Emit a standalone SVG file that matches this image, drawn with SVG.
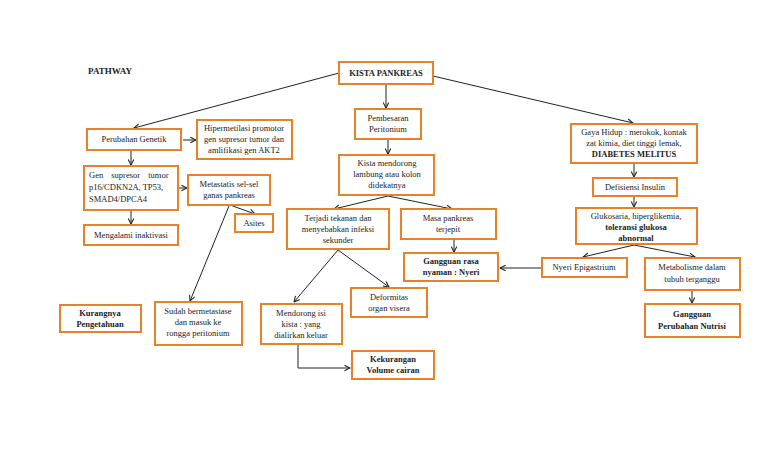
<svg xmlns="http://www.w3.org/2000/svg" width="768" height="466" viewBox="0 0 768 466">
<style>
rect{fill:#fff;stroke:#E8822A;stroke-width:2}
text{font-family:"Liberation Serif",serif;font-size:8.5px;fill:#222;text-anchor:middle}
.b{font-weight:bold}
#conn line,#conn polyline{stroke:#222;stroke-width:1;fill:none;marker-end:url(#a)}
</style>
<defs><marker id="a" viewBox="0 0 10 10" refX="9" refY="5" markerWidth="7" markerHeight="7" orient="auto"><path d="M1,1 L9,5 L1,9" fill="none" stroke="#222" stroke-width="1.5"/></marker></defs>
<rect width="768" height="466" style="fill:#fff;stroke:none"/>
<text x="110" y="74" class="b" style="font-size:9px">PATHWAY</text>
<g id="conn">
<line x1="339" y1="73" x2="134" y2="128"/>
<line x1="386" y1="84" x2="386" y2="108"/>
<line x1="433" y1="76" x2="633" y2="123"/>
<line x1="183" y1="140" x2="196" y2="140"/>
<line x1="131" y1="151" x2="131" y2="165"/>
<line x1="131" y1="211" x2="131" y2="224"/>
<line x1="179" y1="188" x2="187" y2="188"/>
<line x1="230" y1="205" x2="255" y2="214"/>
<line x1="229" y1="206" x2="190" y2="301"/>
<line x1="388" y1="140" x2="388" y2="154"/>
<line x1="388" y1="196" x2="334" y2="209"/>
<line x1="388" y1="196" x2="452" y2="209"/>
<line x1="454" y1="240" x2="454" y2="252"/>
<line x1="541" y1="268" x2="500" y2="268"/>
<line x1="338" y1="250" x2="294" y2="302"/>
<line x1="338" y1="250" x2="389" y2="287"/>
<polyline points="298,345 298,368 350,368"/>
<line x1="634" y1="164" x2="634" y2="177"/>
<line x1="634" y1="197" x2="634" y2="207"/>
<line x1="634" y1="245" x2="583" y2="257"/>
<line x1="634" y1="245" x2="695" y2="257"/>
<line x1="692" y1="291" x2="692" y2="303"/>
</g>
<g id="n1"><rect x="339" y="62" width="94" height="22"/><text x="386" y="76" class="b">KISTA PANKREAS</text></g>
<g id="n2"><rect x="355" y="109" width="66" height="30"/><text x="388" y="121">Pembesaran</text><text x="388" y="132">Peritonium</text></g>
<g id="n3"><rect x="339" y="155" width="95" height="40"/><text x="387" y="166">Kista mendorong</text><text x="387" y="177">lambung atau kolon</text><text x="387" y="188">didekatnya</text></g>
<g id="n4"><rect x="287" y="209" width="102" height="40"/><text x="338" y="221">Terjadi tekanan dan</text><text x="338" y="232">menyebabkan infeksi</text><text x="338" y="243">sekunder</text></g>
<g id="n5"><rect x="401" y="209" width="95" height="30"/><text x="448" y="221">Masa pankreas</text><text x="448" y="232">terjepit</text></g>
<g id="n6"><rect x="404" y="253" width="94" height="28"/><text x="451" y="264" class="b">Gangguan rasa</text><text x="451" y="275" class="b">nyaman : Nyeri</text></g>
<g id="n7"><rect x="261" y="304" width="81" height="40"/><text x="301" y="316">Mendorong isi</text><text x="301" y="327">kista : yang</text><text x="301" y="338">dialirkan keluar</text></g>
<g id="n8"><rect x="351" y="288" width="76" height="29"/><text x="389" y="300">Deformitas</text><text x="389" y="311">organ visera</text></g>
<g id="n9"><rect x="352" y="351" width="82" height="28"/><text x="393" y="362" class="b">Kekurangan</text><text x="393" y="373" class="b">Volume cairan</text></g>
<g id="n10"><rect x="87" y="129" width="94" height="21"/><text x="134" y="142">Perubahan Genetik</text></g>
<g id="n11"><rect x="197" y="120" width="95" height="39"/><text x="244" y="131">Hipermetilasi promotor</text><text x="244" y="142">gen supresor tumor dan</text><text x="244" y="153">amlifikasi gen AKT2</text></g>
<g id="n12"><rect x="84" y="166" width="94" height="44"/><text x="89" y="178" style="text-anchor:start;word-spacing:6px">Gen supresor tumor</text><text x="89" y="190" style="text-anchor:start">p16/CDKN2A, TP53,</text><text x="89" y="202" style="text-anchor:start">SMAD4/DPCA4</text></g>
<g id="n13"><rect x="188" y="175" width="82" height="30"/><text x="229" y="187">Metastatis sel-sel</text><text x="229" y="198">ganas pankreas</text></g>
<g id="n14"><rect x="235" y="214" width="38" height="18"/><text x="254" y="226">Asites</text></g>
<g id="n15"><rect x="84" y="225" width="94" height="20"/><text x="131" y="238">Mengalami inaktivasi</text></g>
<g id="n16"><rect x="155" y="302" width="87" height="43"/><text x="198" y="314">Sudah bermetastase</text><text x="198" y="325">dan masuk ke</text><text x="198" y="336">rongga peritonium</text></g>
<g id="n17"><rect x="60" y="305" width="81" height="27"/><text x="100" y="316" class="b">Kurangnya</text><text x="100" y="327" class="b">Pengetahuan</text></g>
<g id="n18"><rect x="571" y="124" width="126" height="39"/><text x="634" y="135">Gaya Hidup : merokok, kontak</text><text x="634" y="146">zat kimia, diet tinggi lemak,</text><text x="634" y="157" class="b">DIABETES MELITUS</text></g>
<g id="n19"><rect x="593" y="178" width="84" height="18"/><text x="635" y="190">Defisiensi Insulin</text></g>
<g id="n20"><rect x="576" y="208" width="121" height="36"/><text x="636" y="219">Glukosaria, hiperglikemia,</text><text x="636" y="230" class="b">toleransi glukosa</text><text x="636" y="241" class="b">abnormal</text></g>
<g id="n21"><rect x="542" y="258" width="85" height="19"/><text x="584" y="270">Nyeri Epigastrium</text></g>
<g id="n22"><rect x="645" y="258" width="95" height="32"/><text x="692" y="270">Metabolisme dalam</text><text x="692" y="282">tubuh terganggu</text></g>
<g id="n23"><rect x="645" y="304" width="95" height="33"/><text x="692" y="317" class="b">Gangguan</text><text x="692" y="329" class="b">Perubahan Nutrisi</text></g>
</svg>
